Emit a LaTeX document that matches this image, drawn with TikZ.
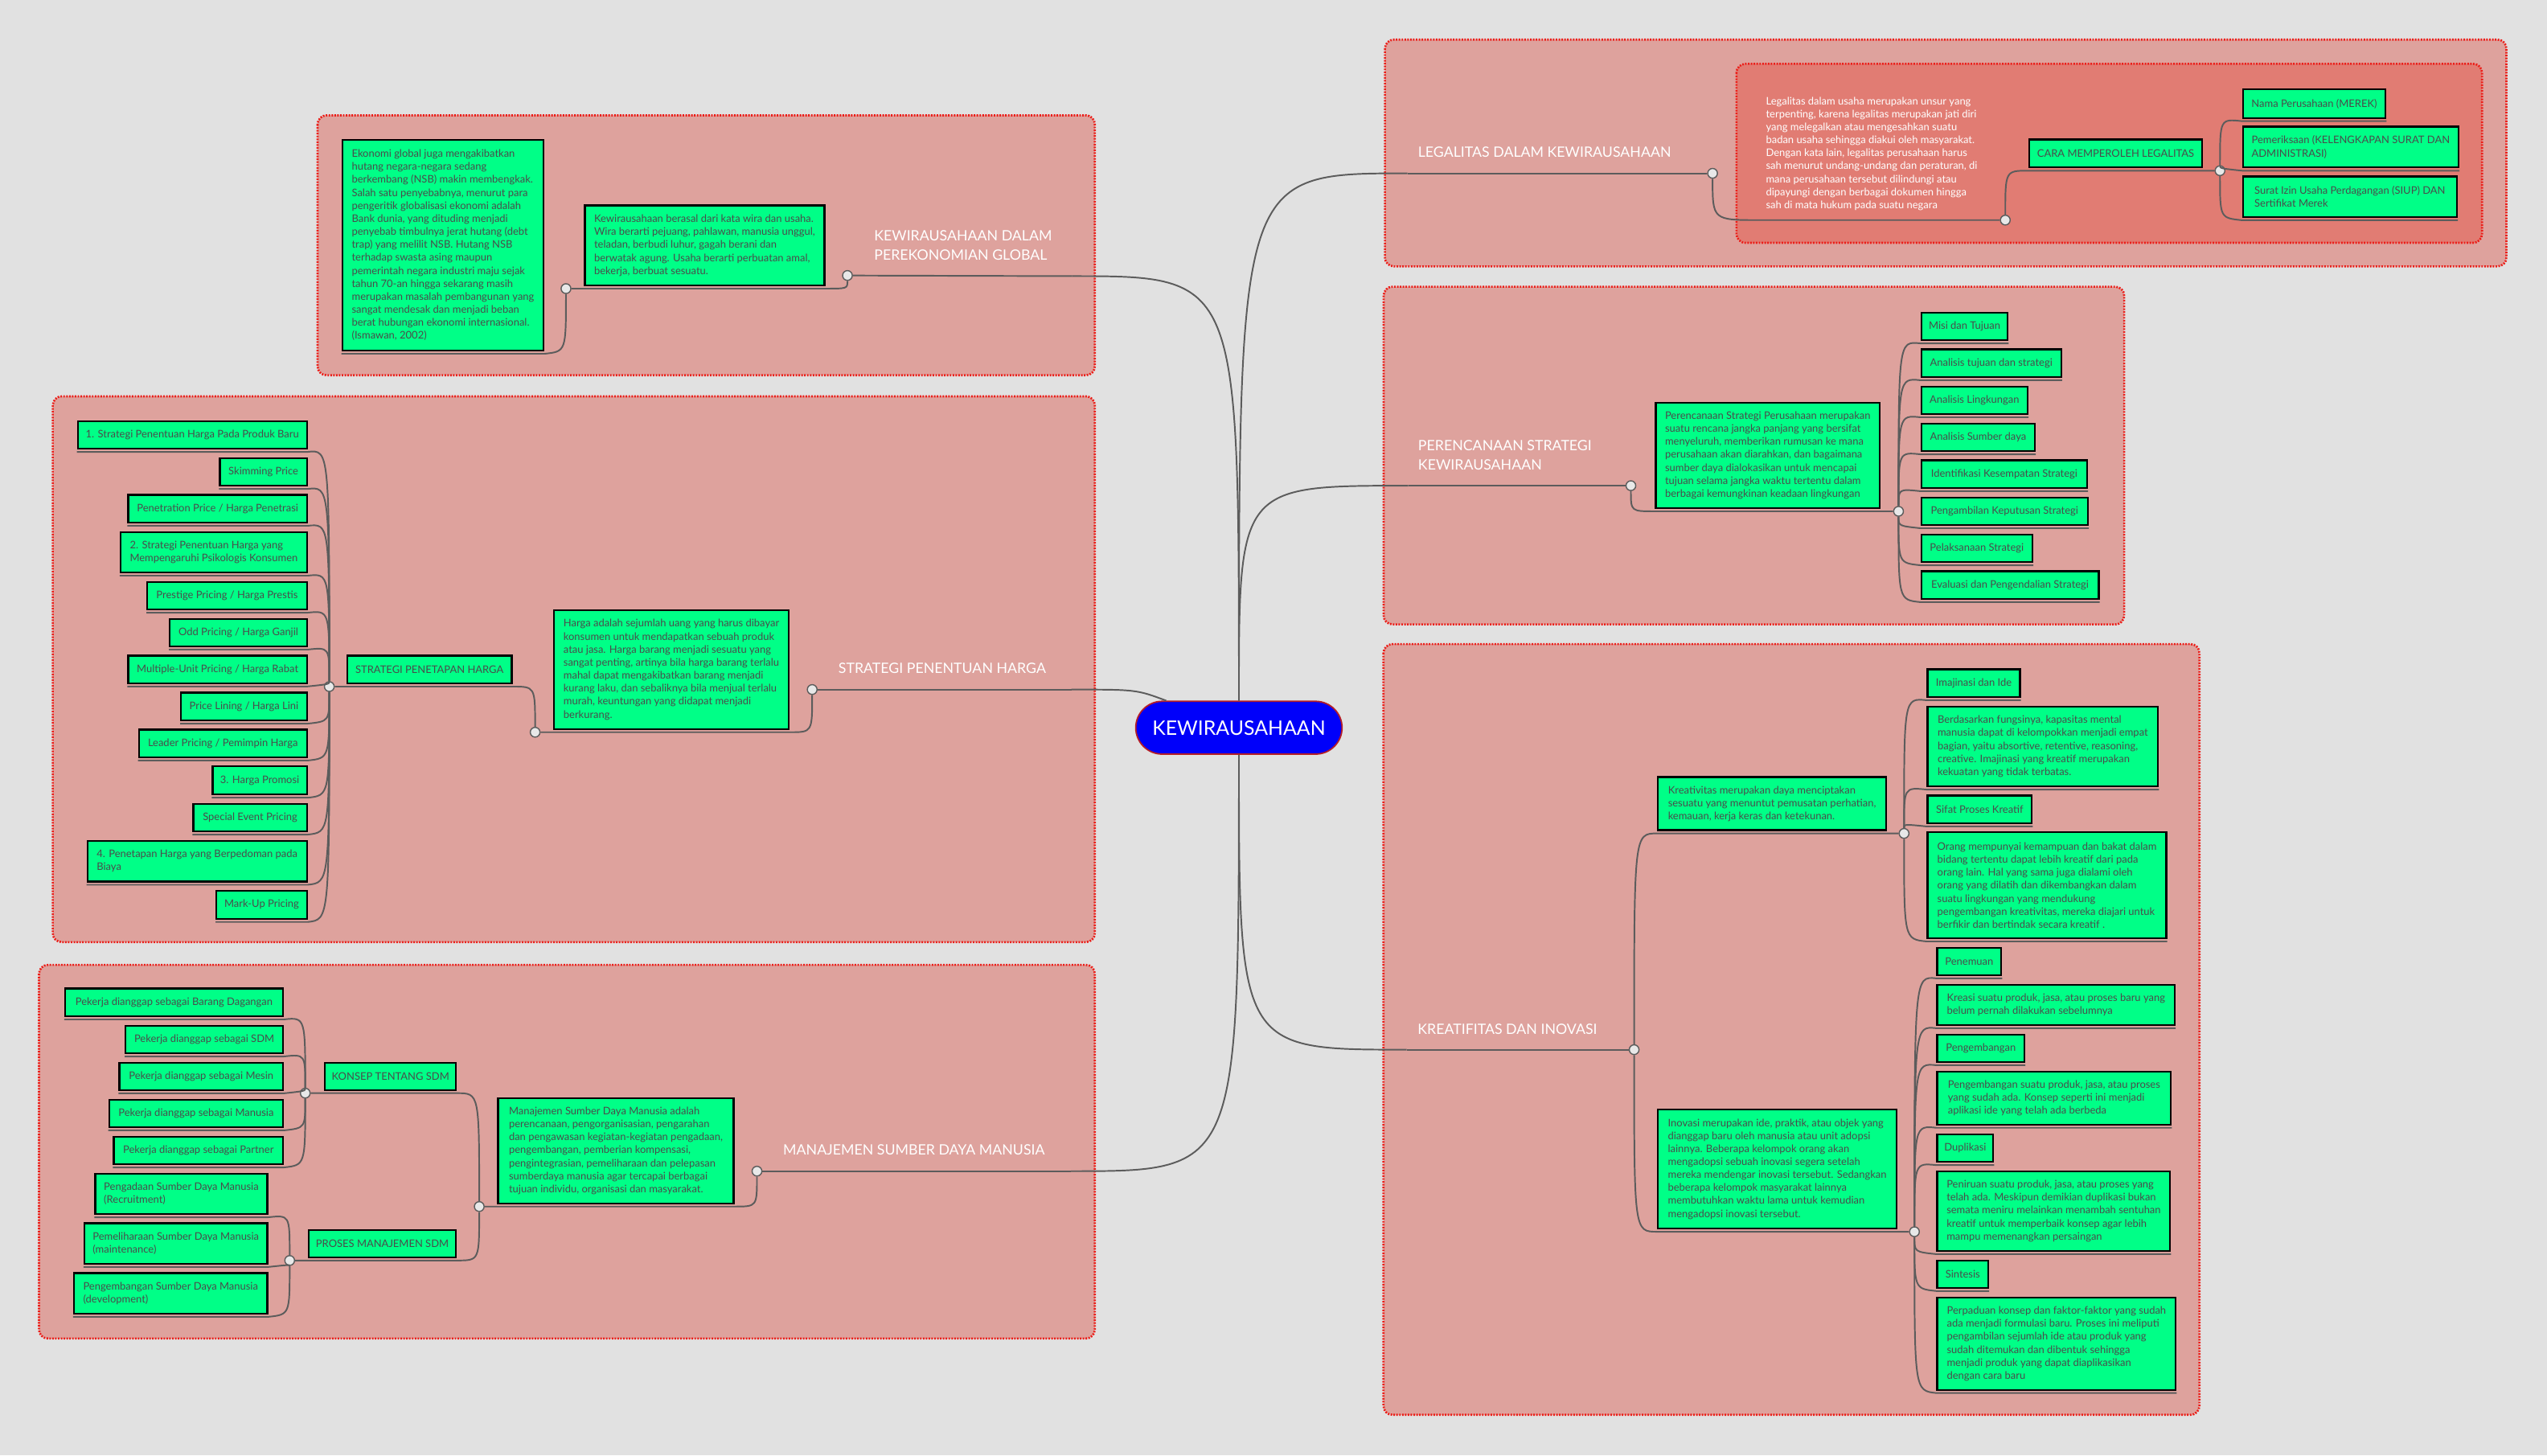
\documentclass[tikz,border=0pt]{standalone}
\usepackage{fontspec}
\setmainfont{Lato}
\usepackage{xcolor}
\usepackage{tikz}
\definecolor{bgpaper}{RGB}{225,225,225}
\definecolor{grppink}{RGB}{222,162,157}
\definecolor{grpsalmon}{RGB}{225,124,115}
\definecolor{grpred}{RGB}{235,30,25}
\definecolor{leafgreen}{RGB}{0,255,135}
\definecolor{leaftext}{RGB}{75,75,75}
\definecolor{linegray}{RGB}{92,92,92}
\definecolor{knobgray}{RGB}{232,232,232}
\definecolor{hubblue}{RGB}{0,0,250}
\definecolor{hubred}{RGB}{180,30,40}
\newcommand\greenbox[6]{\pgfmathsetmacro\bw{(#4-#2)*0.4}\pgfmathsetmacro\bh{(#5-#3)*0.4}%
\node[leaf,minimum width=\bw mm,minimum height=\bh mm](#1)at({(#2+#4)/2},{(#3+#5)/2}){#6};}

\begin{document}
\begin{tikzpicture}[x=0.4mm,y=-0.4mm,
grp/.style={draw=grpred,line width=1.5pt,dash pattern=on 1.1pt off 0.9pt,rounded corners=2.2mm},
leaf/.style={draw=black,line width=1.3pt,fill=leafgreen,text=leaftext,align=left,inner xsep=1.4mm,inner ysep=0.8mm,font=\fontsize{7.3}{9.1}\selectfont},
ln/.style={draw=linegray,line width=1.1pt},
knob/.style={circle,draw=linegray,fill=knobgray,line width=0.8pt,inner sep=0,minimum size=2.4mm},
lbl/.style={text=white,align=left,inner sep=0,font=\fontsize{10}{13.3}\selectfont}]
\fill[bgpaper,use as bounding box](0,0)rectangle(1568,896);
\draw[grp,fill=grppink](195.5,71)rectangle(674,231);
\draw[grp,fill=grppink](32.5,244)rectangle(674,580);
\draw[grp,fill=grppink](24,594)rectangle(674,824);
\draw[grp,fill=grppink](852.6,24.4)rectangle(1543,164);\draw[grp,fill=grpsalmon](1069,39.3)rectangle(1528,149.5);
\draw[grp,fill=grppink](851.8,176.5)rectangle(1307.7,384.4);
\draw[grp,fill=grppink](851.7,396.5)rectangle(1354,871);

\node[draw=hubred,line width=1pt,fill=hubblue,text=white,rounded corners=6.5mm,minimum width=50.8mm,minimum height=13mm,font=\fontsize{14}{16}\selectfont](ctr)at(762.7,448){KEWIRAUSAHAAN};

% kiri
\coordinate(g1e)at(660,170);\coordinate(g2e)at(659.6,424.5);\coordinate(g3e)at(659.3,721);
\node[knob](kg1)at(521.7,169.6){};\node[lbl,anchor=south west](lg1)at(538,160.4){KEWIRAUSAHAAN DALAM\\PEREKONOMIAN GLOBAL};
\node[knob](kg2)at(500,424.5){};\node[lbl,anchor=south west](lg2)at(516,414.9){STRATEGI PENENTUAN HARGA};
\node[knob](kg3)at(466,721){};\node[lbl,anchor=south west](lg3)at(482,711){MANAJEMEN SUMBER DAYA MANUSIA};

\greenbox{wira}{360}{126.5}{507.6}{175.7}{Kewirausahaan berasal dari kata wira dan usaha.\\Wira berarti pejuang, pahlawan, manusia unggul,\\teladan, berbudi luhur, gagah berani dan\\berwatak agung. Usaha berarti perbuatan amal,\\bekerja, berbuat sesuatu.}
\node[knob](kwira)at([xshift=-4.4mm,yshift=-1.6pt]wira.south west){};
\greenbox{eko}{210.7}{86}{334.7}{215.8}{Ekonomi global juga mengakibatkan\\hutang negara-negara sedang\\berkembang (NSB) makin membengkak.\\Salah satu penyebabnya, menurut para\\pengeritik globalisasi ekonomi adalah\\Bank dunia, yang dituding menjadi\\penyebab timbulnya jerat hutang (debt\\trap) yang melilit NSB. Hutang NSB\\terhadap swasta asing maupun\\pemerintah negara industri maju sejak\\tahun 70-an hingga sekarang masih\\merupakan masalah pembangunan yang\\sangat mendesak dan menjadi beban\\berat hubungan ekonomi internasional.\\(Ismawan, 2002)}

\greenbox{harga}{341}{375.7}{485.6}{448.8}{Harga adalah sejumlah uang yang harus dibayar\\konsumen untuk mendapatkan sebuah produk\\atau jasa. Harga barang menjadi sesuatu yang\\sangat penting, artinya bila harga barang terlalu\\mahal dapat mengakibatkan barang menjadi\\kurang laku, dan sebaliknya bila menjual terlalu\\murah, keuntungan yang didapat menjadi\\berkurang.}
\node[knob](kharga)at([xshift=-4.4mm,yshift=-1.6pt]harga.south west){};
\greenbox{spha}{213.8}{403.7}{315}{420.7}{STRATEGI PENETAPAN HARGA}
\node[knob](kspha)at([xshift=-4.2mm,yshift=-1.6pt]spha.south west){};
\foreach \nm/\xa/\ya/\yb/\tx in {hl1/47.9/259.4/276.2/{1. Strategi Penentuan Harga Pada Produk Baru},hl2/135.4/282.1/299/{Skimming Price},
hl3/79/304.7/321.7/{Penetration Price / Harga Penetrasi},hl4/74.3/327.5/352.4/{2. Strategi Penentuan Harga yang\\Mempengaruhi Psikologis Konsumen},
hl5/90.7/358.3/375.2/{Prestige Pricing / Harga Prestis},hl6/104.6/381/397.9/{Odd Pricing / Harga Ganjil},
hl7/79/403.7/420.6/{Multiple-Unit Pricing / Harga Rabat},hl8/111.5/426.4/443.5/{Price Lining / Harga Lini},
hl9/85.5/449.1/466.2/{Leader Pricing / Pemimpin Harga},hl10/130.9/471.8/489.1/{3. Harga Promosi},
hl11/119/494.8/511.8/{Special Event Pricing},hl12/53.8/517.7/542.7/{4. Penetapan Harga yang Berpedoman pada\\Biaya},
hl13/133.3/548.3/565.6/{Mark-Up Pricing}}
{\greenbox{\nm}{\xa}{\ya}{188.9}{\yb}{\tx}
\draw[ln]([yshift=-1.6pt]\nm.south west)--([yshift=-1.6pt]\nm.south east)..controls(kspha|-\nm.south east)..(kspha);}

\greenbox{msdm}{306.6}{676}{451.7}{740.8}{Manajemen Sumber Daya Manusia adalah\\perencanaan, pengorganisasian, pengarahan\\dan pengawasan kegiatan-kegiatan pengadaan,\\pengembangan, pemberian kompensasi,\\pengintegrasian, pemeliharaan dan pelepasan\\sumberdaya manusia agar tercapai berbagai\\tujuan individu, organisasi dan masyarakat.}
\node[knob](kmsdm)at([xshift=-4.4mm,yshift=-1.6pt]msdm.south west){};
\greenbox{konsep}{200}{654.2}{280.8}{671}{KONSEP TENTANG SDM}
\node[knob](kkonsep)at([xshift=-4.6mm,yshift=-1.6pt]konsep.south west){};
\greenbox{proses}{189.9}{757.1}{280.8}{774}{PROSES MANAJEMEN SDM}
\node[knob](kproses)at([xshift=-4.4mm,yshift=-1.6pt]proses.south west){};
\foreach \nm/\xa/\ya/\yb/\tx in {ks1/40.1/608.6/625.6/{Pekerja dianggap sebagai Barang Dagangan},ks2/77.3/631.4/648.4/{Pekerja dianggap sebagai SDM},
ks3/73.5/654.2/671.1/{Pekerja dianggap sebagai Mesin},ks4/67.2/677/693.9/{Pekerja dianggap sebagai Manusia},ks5/70.1/699.7/716.7/{Pekerja dianggap sebagai Partner}}
{\greenbox{\nm}{\xa}{\ya}{174.2}{\yb}{\tx}
\draw[ln]([yshift=-1.6pt]\nm.south west)--([yshift=-1.6pt]\nm.south east)..controls(kkonsep|-\nm.south east)..(kkonsep);}
\foreach \nm/\xa/\ya/\yb/\tx in {ps1/58.7/722.5/747.4/{Pengadaan Sumber Daya Manusia\\(Recruitment)},ps2/52/753.1/778/{Pemeliharaan Sumber Daya Manusia\\(maintenance)},
ps3/45.6/783.8/808.7/{Pengembangan Sumber Daya Manusia\\(development)}}
{\greenbox{\nm}{\xa}{\ya}{164.5}{\yb}{\tx}
\draw[ln]([yshift=-1.6pt]\nm.south west)--([yshift=-1.6pt]\nm.south east)..controls(kproses|-\nm.south east)..(kproses);}

% kanan
\coordinate(g4e)at(866.5,106.7);\coordinate(g5e)at(867,299);\coordinate(g6e)at(866,646.2);
\node[knob](kg4)at(1054.3,106.7){};\node[lbl,anchor=south west](lg4)at(872.8,97){LEGALITAS DALAM KEWIRAUSAHAAN};
\node[knob](kg5)at(1004,299){};\node[lbl,anchor=south west](lg5)at(872.9,289.5){PERENCANAAN STRATEGI\\KEWIRAUSAHAAN};
\node[knob](kg6)at(1006,646.2){};\node[lbl,anchor=south west](lg6)at(872.6,637){KREATIFITAS DAN INOVASI};

\node[lbl,anchor=north west,font=\fontsize{7.3}{9.1}\selectfont](legal)at(1087,59.5){Legalitas dalam usaha merupakan unsur yang\\terpenting, karena legalitas merupakan jati diri\\yang melegalkan atau mengesahkan suatu\\badan usaha sehingga diakui oleh masyarakat.\\Dengan kata lain, legalitas perusahaan harus\\sah menurut undang-undang dan peraturan, di\\mana perusahaan tersebut dilindungi atau\\dipayungi dengan berbagai dokumen hingga\\sah di mata hukum pada suatu negara};
\coordinate(legs)at(1083.4,135.5);\node[knob](klegal)at(1234.5,135.5){};
\greenbox{cara}{1249.3}{85.8}{1355.6}{103.1}{CARA MEMPEROLEH LEGALITAS}
\node[knob](kcara)at([xshift=4.2mm,yshift=-1.6pt]cara.south east){};
\foreach \nm/\xb/\ya/\yb/\tx in {lg1/1468.6/55.1/72.6/{Nama Perusahaan (MEREK)},lg2/1513.5/77.9/103.1/{Pemeriksaan (KELENGKAPAN SURAT DAN\\ADMINISTRASI)},
lg3/1512.5/108.6/133.6/{Surat Izin Usaha Perdagangan (SIUP) DAN\\Sertifikat Merek}}
{\greenbox{c\nm}{1380.8}{\ya}{\xb}{\yb}{\tx}
\draw[ln]([yshift=-1.6pt]c\nm.south east)--([yshift=-1.6pt]c\nm.south west)..controls(kcara|-c\nm.south west)..(kcara);}

\greenbox{renc}{1019.3}{247.8}{1157.2}{312.8}{Perencanaan Strategi Perusahaan merupakan\\suatu rencana jangka panjang yang bersifat\\menyeluruh, memberikan rumusan ke mana\\perusahaan akan diarahkan, dan bagaimana\\sumber daya dialokasikan untuk mencapai\\tujuan selama jangka waktu tertentu dalam\\berbagai kemungkinan keadaan lingkungan}
\node[knob](krenc)at([xshift=4.4mm,yshift=-1.6pt]renc.south east){};
\foreach \nm/\xb/\ya/\yb/\tx in {rs1/1236/192.4/209.4/{Misi dan Tujuan},rs2/1268.9/215.1/232.1/{Analisis tujuan dan strategi},
rs3/1248.2/237.9/254.9/{Analisis Lingkungan},rs4/1252.7/260.7/277.7/{Analisis Sumber daya},
rs5/1284.9/283.4/300.4/{Identifikasi Kesempatan Strategi},rs6/1285.3/306.2/323.2/{Pengambilan Keputusan Strategi},
rs7/1251.2/329/346/{Pelaksanaan Strategi},rs8/1292/351.7/368.7/{Evaluasi dan Pengendalian Strategi}}
{\greenbox{\nm}{1182.8}{\ya}{\xb}{\yb}{\tx}
\draw[ln]([yshift=-1.6pt]\nm.south east)--([yshift=-1.6pt]\nm.south west)..controls(krenc|-\nm.south west)..(krenc);}

\greenbox{kreat}{1020.7}{478.4}{1161.1}{511.1}{Kreativitas merupakan daya menciptakan\\sesuatu yang menuntut pemusatan perhatian,\\kemauan, kerja keras dan ketekunan.}
\node[knob](kkreat)at([xshift=4.2mm,yshift=-1.6pt]kreat.south east){};
\foreach \nm/\xb/\ya/\yb/\tx in {kr1/1243.5/412.1/429.1/{Imajinasi dan Ide},
kr2/1328.5/435/484.1/{Berdasarkan fungsinya, kapasitas mental\\manusia dapat di kelompokkan menjadi empat\\bagian, yaitu absortive, retentive, reasoning,\\creative. Imajinasi yang kreatif merupakan\\kekuatan yang tidak terbatas.},
kr3/1250.8/489.7/506.8/{Sifat Proses Kreatif},
kr4/1333.6/512.4/577.6/{Orang mempunyai kemampuan dan bakat dalam\\bidang tertentu dapat lebih kreatif dari pada\\orang lain. Hal yang sama juga dialami oleh\\orang yang dilatih dan dikembangkan dalam\\suatu lingkungan yang mendukung\\pengembangan kreativitas, mereka diajari untuk\\berfikir dan bertindak secara kreatif .}}
{\greenbox{\nm}{1186.7}{\ya}{\xb}{\yb}{\tx}
\draw[ln]([yshift=-1.6pt]\nm.south east)--([yshift=-1.6pt]\nm.south west)..controls(kkreat|-\nm.south west)..(kkreat);}

\greenbox{inov}{1020.7}{683}{1167.5}{756.3}{Inovasi merupakan ide, praktik, atau objek yang\\dianggap baru oleh manusia atau unit adopsi\\lainnya. Beberapa kelompok orang akan\\mengadopsi sebuah inovasi segera setelah\\mereka mendengar inovasi tersebut. Sedangkan\\beberapa kelompok masyarakat lainnya\\membutuhkan waktu lama untuk kemudian\\mengadopsi inovasi tersebut.}
\node[knob](kinov)at([xshift=4.2mm,yshift=-1.6pt]inov.south east){};
\foreach \nm/\xb/\ya/\yb/\tx in {in1/1232/583.5/600.3/{Penemuan},
in2/1338.8/606.2/631/{Kreasi suatu produk, jasa, atau proses baru yang\\belum pernah dilakukan sebelumnya},
in3/1246.3/637/653.8/{Pengembangan},
in4/1336.4/659.7/692.3/{Pengembangan suatu produk, jasa, atau proses\\yang sudah ada. Konsep seperti ini menjadi\\aplikasi ide yang telah ada berbeda},
in5/1227.1/698.3/715.3/{Duplikasi},
in6/1336/721/770.1/{Peniruan suatu produk, jasa, atau proses yang\\telah ada. Meskipun demikian duplikasi bukan\\semata meniru melainkan menambah sentuhan\\kreatif untuk memperbaik konsep agar lebih\\mampu memenangkan persaingan},
in7/1224/776/792.8/{Sintesis},
in8/1339.4/798.9/855.6/{Perpaduan konsep dan faktor-faktor yang sudah\\ada menjadi formulasi baru. Proses ini meliputi\\pengambilan sejumlah ide atau produk yang\\sudah ditemukan dan dibentuk sehingga\\menjadi produk yang dapat diaplikasikan\\dengan cara baru}}
{\greenbox{\nm}{1192.6}{\ya}{\xb}{\yb}{\tx}
\draw[ln]([yshift=-1.6pt]\nm.south east)--([yshift=-1.6pt]\nm.south west)..controls(kinov|-\nm.south west)..(kinov);}

% garis
\draw[ln](g1e)..controls(ctr|-g1e)..(ctr);\draw[ln](g2e)..controls+(40,0)..(ctr);\draw[ln](g3e)..controls(ctr|-g3e)..(ctr);
\draw[ln](g4e)..controls(ctr|-g4e)..(ctr);\draw[ln](g5e)..controls(ctr|-g5e)..(ctr);\draw[ln](g6e)..controls(ctr|-g6e)..(ctr);
\draw[ln](kg1)--(g1e);\draw[ln](kg2)--(g2e);\draw[ln](kg3)--(g3e);\draw[ln](kg4)--(g4e);\draw[ln](kg5)--(g5e);\draw[ln](kg6)--(g6e);
\draw[ln](kwira)--(kwira-|wira.south east)..controls(kg1|-kwira)..(kg1);
\draw[ln]([yshift=-1.6pt]eko.south west)--([yshift=-1.6pt]eko.south east)..controls(kwira|-eko.south east)..(kwira);
\draw[ln](kharga)--(kharga-|harga.south east)..controls(kg2|-kharga)..(kg2);
\draw[ln](kspha)--(kspha-|spha.south east)..controls(kharga|-kspha)..(kharga);
\draw[ln](kmsdm)--(kmsdm-|msdm.south east)..controls(kg3|-kmsdm)..(kg3);
\draw[ln](kkonsep)--(kkonsep-|konsep.south east)..controls(kmsdm|-kkonsep)..(kmsdm);
\draw[ln](kproses)--(kproses-|proses.south east)..controls(kmsdm|-kproses)..(kmsdm);
\draw[ln](klegal)--(legs)..controls(kg4|-legs)..(kg4);
\draw[ln](kcara)--(kcara-|cara.south west)..controls(klegal|-kcara)..(klegal);
\draw[ln](krenc)--(krenc-|renc.south west)..controls(kg5|-krenc)..(kg5);
\draw[ln](kkreat)--(kkreat-|kreat.south west)..controls(kg6|-kkreat)..(kg6);
\draw[ln](kinov)--(kinov-|inov.south west)..controls(kg6|-kinov)..(kg6);
\end{tikzpicture}
\end{document}
